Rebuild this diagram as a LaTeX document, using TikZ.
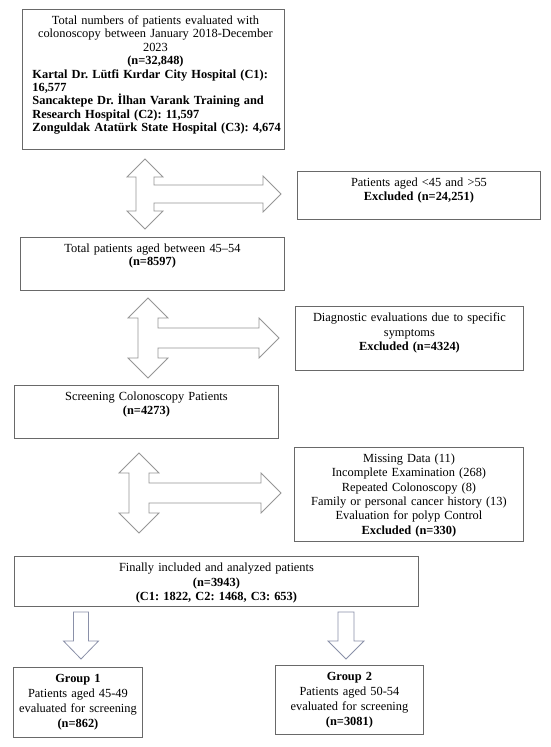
\documentclass[tikz,border=0pt]{standalone}
\usepackage{fontspec}
\setmainfont{Liberation Serif}
\usetikzlibrary{positioning}
\frenchspacing

\definecolor{boxgray}{RGB}{105,105,105}
\definecolor{arrowgray}{RGB}{150,150,150}
\definecolor{downblue}{RGB}{138,144,168}

\tikzset{
  frame/.style={draw=boxgray, line width=0.9pt, inner sep=0pt, anchor=north west},
  txt/.style={text width=#1, align=center, inner sep=0pt, anchor=base,
    font=\fontsize{12.4}{14.3}\selectfont},
  bigarrow/.style={draw=arrowgray, line width=0.8pt, line join=miter},
  downarrow/.style={draw=downblue, line width=0.8pt, line join=miter}
}

\begin{document}
\begin{tikzpicture}[x=1pt,y=-1pt]
\useasboundingbox[fill=white] (0,0) rectangle (550,747);

% frames: name/x/y/width/height
\foreach \name/\x/\y/\w/\h in
    {total/22/9/262/140,
     excl1/297/171/243/48,
     age/20/237/264/53,
     diag/295/306/228/64,
     screen/14/385/264/53,
     missing/294/447/229/94,
     final/14/556/404/50,
     grpA/13/667/129/70,
     grpB/275/665/148/69}
  \node[frame, minimum width=\w pt, minimum height=\h pt] (\name) at (\x,\y) {};

\node[txt=246pt, align=left, xshift=2pt, font=\fontsize{12.4}{13.4}\selectfont] (total-t)
  at ([yshift=-15.5pt]total.north)
  {\centering Total numbers of patients evaluated with\\
   colonoscopy between January 2018-December\\ 2023\\ \textbf{(n=32,848)}\par
   \raggedright\bfseries Kartal Dr. Lütfi Kırdar City Hospital (C1):\\ 16,577\\
   Sancaktepe Dr. İlhan Varank Training and\\ Research Hospital (C2): 11,597\\
   \mbox{Zonguldak Atatürk State Hospital (C3): 4,674}};

\node[txt=230pt, font=\fontsize{12.4}{13.7}\selectfont] (excl1-t) at ([yshift=-15.5pt]excl1.north)
  {Patients aged <45 and >55\\ \textbf{Excluded (n=24,251)}};

\node[txt=250pt, font=\fontsize{12.4}{13.4}\selectfont] (age-t) at ([yshift=-15.5pt]age.north)
  {Total patients aged between 45–54\\ \textbf{(n=8597)}};

\node[txt=220pt, font=\fontsize{12.4}{14.5}\selectfont] (diag-t) at ([yshift=-15.5pt]diag.north)
  {Diagnostic evaluations due to specific\\ symptoms\\ \textbf{Excluded (n=4324)}};

\node[txt=250pt] (screen-t) at ([yshift=-15.5pt]screen.north)
  {Screening Colonoscopy Patients\\ \textbf{(n=4273)}};

\node[txt=225pt] (missing-t) at ([yshift=-15.5pt]missing.north)
  {Missing Data (11)\\ Incomplete Examination (268)\\ Repeated Colonoscopy (8)\\
   Family or personal cancer history (13)\\ Evaluation for polyp Control\\
   \textbf{Excluded (n=330)}};

\node[txt=390pt, font=\fontsize{12.4}{14.5}\selectfont] (final-t) at ([yshift=-15.5pt]final.north)
  {Finally included and analyzed patients\\ \textbf{(n=3943)}\\
   \textbf{(C1: 1822, C2: 1468, C3: 653)}};

\node[txt=125pt, font=\fontsize{12.4}{15}\selectfont] (grpA-t) at ([yshift=-15.5pt]grpA.north)
  {\textbf{Group 1}\\ Patients aged 45-49\\ evaluated for screening\\ \textbf{(n=862)}};

\node[txt=144pt, font=\fontsize{12.4}{15}\selectfont] (grpB-t) at ([yshift=-15.5pt]grpB.north)
  {\textbf{Group 2}\\ Patients aged 50-54\\ evaluated for screening\\ \textbf{(n=3081)}};

% up-down arrows with a branch to the right
\foreach \cx/\ta/\tb/\sw/\hw/\hl/\tip in
    {145/159/229/9/18/18/281,
     148/298/378/10/20/20/279,
     139/453/533/10/20/20/281}
  {
  \pgfmathsetmacro\cy{(\ta+\tb)/2}
  \draw[bigarrow] (\cx,\ta) -- (\cx+\hw,\ta+\hl) -- (\cx+\sw,\ta+\hl)
    -- (\cx+\sw,\cy-\sw) -- (\tip-\hl,\cy-\sw) -- (\tip-\hl,\cy-\hw) -- (\tip,\cy)
    -- (\tip-\hl,\cy+\hw) -- (\tip-\hl,\cy+\sw) -- (\cx+\sw,\cy+\sw)
    -- (\cx+\sw,\tb-\hl) -- (\cx+\hw,\tb-\hl) -- (\cx,\tb) -- (\cx-\hw,\tb-\hl)
    -- (\cx-\sw,\tb-\hl) -- (\cx-\sw,\ta+\hl) -- (\cx-\hw,\ta+\hl) -- cycle;
  }

% down arrows to the two groups
\foreach \cx/\sw/\hw in {81/7.5/17.5, 346/8/18}
  \draw[downarrow] (\cx-\sw,612) -- (\cx+\sw,612) -- (\cx+\sw,641) -- (\cx+\hw,641)
    -- (\cx,659) -- (\cx-\hw,641) -- (\cx-\sw,641) -- cycle;

\end{tikzpicture}
\end{document}
